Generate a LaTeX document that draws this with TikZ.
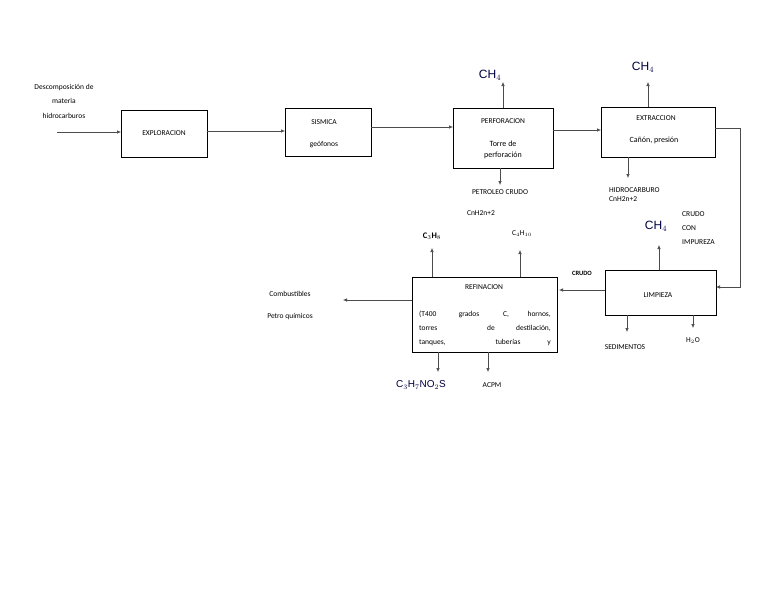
\documentclass[tikz,border=0pt]{standalone}
\usepackage{fontspec}
\setmainfont{Carlito}
\newfontfamily\sans{Liberation Sans}
\usetikzlibrary{arrows.meta}
\begin{document}
\begin{tikzpicture}[x=1pt,y=-1pt,
  box/.style={draw,line width=0.8pt,anchor=north west,inner sep=0},
  lab/.style={font=\fontsize{7.5}{9}\selectfont,inner sep=0,align=center},
  big/.style={font=\sans\fontsize{12}{12}\selectfont,text=black!75!blue,inner sep=0},
  ar/.style={draw=black!70,line width=0.6pt,-{Latex[length=4pt,width=3.5pt]}}]
\useasboundingbox[fill=white] (0,0) rectangle (768,594);
\node[box,minimum width=86,minimum height=47] (expl) at (121,110) {};
\node[lab] at (164,133) {EXPLORACION};
\node[box,minimum width=86,minimum height=48] (sis) at (285,108) {};
\node[lab] at (324,122) {SISMICA};
\node[lab] at (324,145) {geófonos};
\node[box,minimum width=100,minimum height=60] (perf) at (453,108) {};
\node[lab] at (503,121) {PERFORACION};
\node[lab,font=\fontsize{8}{11.5}\selectfont] at (503,150) {Torre de\\perforación};
\node[box,minimum width=114,minimum height=50] (extr) at (601,107) {};
\node[lab] at (656,118) {EXTRACCION};
\node[lab,font=\fontsize{8}{9}\selectfont] at (654,140) {Cañón, presión};
\node[box,minimum width=111,minimum height=45] (limp) at (605,270) {};
\node[lab] at (658,295) {LIMPIEZA};
\node[box,minimum width=145,minimum height=75] (ref) at (412,277) {};
\node[lab] at (484,287) {REFINACION};
\begin{scope}[every node/.style={lab,anchor=base}]
\node[anchor=base west] at (419,316) {(T400}; \node at (469,316) {grados}; \node at (506,316) {C,}; \node[anchor=base east] at (551,316) {hornos,};
\node[anchor=base west] at (419,330) {torres}; \node at (491,330) {de}; \node[anchor=base east] at (551,330) {destilación,};
\node[anchor=base west] at (419,344) {tanques,}; \node at (508,344) {tuberías}; \node[anchor=base east] at (551,344) {y};
\end{scope}
\node[lab,anchor=base] at (441,353) {.};
\node[lab,anchor=base] at (476,353) {.};
% texts
\node[lab,align=center,font=\fontsize{7.5}{14.5}\selectfont] (src) at (64,101) {Descomposición de\\materia\\hidrocarburos};
\coordinate (s0) at (57,132);
\node[big] (ch1) at (490,75) {CH$_4$};
\node[big] (ch2) at (643,67) {CH$_4$};
\node[big] (ch3) at (656,226) {CH$_4$};
\node[lab] (pc) at (500,192) {PETROLEO CRUDO};
\node[lab] at (481,213) {CnH2n+2};
\node[lab,align=left,anchor=west] (hc) at (609,195) {HIDROCARBURO\\CnH2n+2};
\node[lab,align=left,anchor=west,font=\fontsize{7.5}{14}\selectfont] at (682,228) {CRUDO\\CON\\IMPUREZA};
\node[lab,font=\bfseries\fontsize{6.5}{8}\selectfont] at (582,273) {CRUDO};
\node[lab] (sed) at (625,347) {SEDIMENTOS};
\node[lab] (h2o) at (693,341) {H$_2$O};
\node[lab,font=\bfseries\fontsize{8.5}{8}\selectfont] (c3) at (432,236) {C$_3$H$_8$};
\node[lab] (c4) at (522,234) {C$_4$H$_{10}$};
\node[lab,font=\fontsize{7.5}{22}\selectfont] (comb) at (290,305) {Combustibles\\Petro químicos};
\node[big,font=\sans\fontsize{10}{10}\selectfont] (c3h7) at (421,385) {C$_3$H$_7$NO$_2$S};
\node[lab] (acpm) at (492,385) {ACPM};
% arrows
\draw[ar] (s0) -- (121,132);
\draw[ar] (207,131) -- (285,131);
\draw[ar] (371,127) -- (453,127);
\draw[ar] (553,130) -- (601,130);
\draw[ar] (715,128) -- (740,128) -- (740,287) -- (716,287);
\draw[ar] (503,108) -- (503,82);
\draw[ar] (648,107) -- (648,82);
\draw[ar] (500,168) -- (500,185);
\draw[ar] (628,157) -- (628,178);
\draw[ar] (659,270) -- (659,245);
\draw[ar] (605,290) -- (559,290);
\draw[ar] (627,315) -- (627,332);
\draw[ar] (693,315) -- (693,328);
\draw[ar] (432,277) -- (432,248);
\draw[ar] (520,277) -- (520,250);
\draw[ar] (412,300) -- (343,300);
\draw[ar] (438,352) -- (438,372);
\draw[ar] (488,352) -- (488,372);
\end{tikzpicture}
\end{document}
